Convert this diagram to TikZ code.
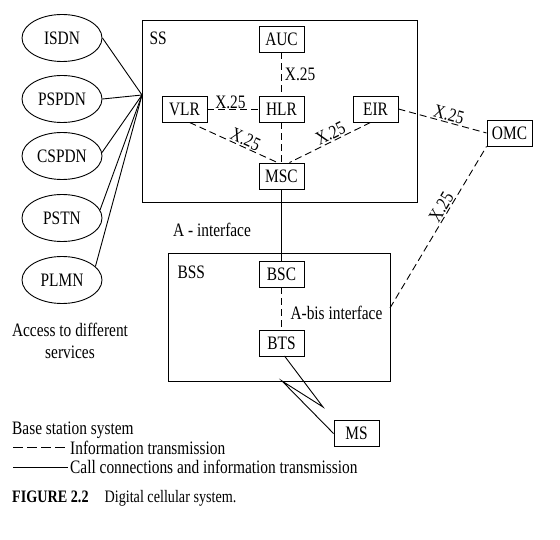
\documentclass[tikz,border=0pt]{standalone}
\usepackage{fontspec}
\setmainfont{Liberation Serif}[FakeStretch=0.81]
\usetikzlibrary{shapes.geometric}
\begin{document}
\begin{tikzpicture}[x=1pt,y=-1pt,
  every node/.style={font=\fontsize{19}{22}\selectfont, text=black},
  unit/.style={draw, line width=0.9pt, minimum width=45pt, minimum height=26pt, inner sep=0pt},
  net/.style={draw, ellipse, line width=0.9pt, minimum width=80pt, minimum height=47pt, inner sep=0pt},
  frame/.style={draw, line width=0.9pt, inner sep=0pt},
  info/.style={dash pattern=on 7pt off 4pt, line width=0.9pt},
  call/.style={line width=0.9pt},
  lbl/.style={inner sep=1pt}]
\useasboundingbox (0,0) rectangle (560,540);
% frames
\node[frame, minimum width=275pt, minimum height=182pt] (ss) at (279.5,111) {};
\node[frame, minimum width=222pt, minimum height=128pt] (bss) at (279,317) {};
\node[anchor=west] (sslbl) at (146,38) {SS};
\node[anchor=west] (bsslbl) at (174,272) {BSS};
% networks
\node[net] (isdn) at (62,38) {ISDN};
\node[net] (pspdn) at (62,99) {PSPDN};
\node[net] (cspdn) at (62,156) {CSPDN};
\node[net] (pstn) at (62,218) {PSTN};
\node[net] (plmn) at (62,280) {PLMN};
\coordinate (fan) at (142,95);
\draw[call] (isdn.east) -- (fan);
\draw[call] (pspdn.east) -- (fan);
\draw[call] (cspdn.5) -- (fan);
\draw[call] (pstn.12) -- (fan);
\draw[call] (plmn.22) -- (fan);
\node[align=center, inner sep=0pt] (acc) at (70,341) {Access to different\\services};
% units
\node[unit] (auc) at (281.5,39) {AUC};
\node[unit] (hlr) at (281.5,109) {HLR};
\node[unit] (vlr) at (184.5,109) {VLR};
\node[unit] (eir) at (375.5,109) {EIR};
\node[unit] (msc) at (281.5,176) {MSC};
\node[unit] (omc) at (509.5,133) {OMC};
\node[unit] (bsc) at (281.5,274) {BSC};
\node[unit] (bts) at (281.5,343) {BTS};
\node[unit] (ms) at (356.5,433.5) {MS};
% links inside SS
\draw[info] (auc) -- node[lbl, anchor=west, pos=0.5, xshift=2pt] (l1) {X.25} (hlr);
\draw[info] (vlr) -- node[lbl, above, pos=0.45, yshift=-1pt] (l2) {X.25} (hlr);
\draw[info] (hlr) -- (msc);
\draw[info] ([xshift=5pt]vlr.south) -- node[lbl, above, sloped, pos=0.6] (l3) {X.25} ([xshift=-4pt]msc.north);
\draw[info] ([xshift=-5pt]eir.south) -- node[lbl, above, sloped, pos=0.45] (l4) {X.25} ([xshift=8pt]msc.north);
\draw[info] (eir.east) -- node[lbl, above, sloped, pos=0.55] (l5) {X.25} (omc.west);
\coordinate (bssr) at (390,308);
\draw[info] (bssr) -- node[lbl, above, sloped, pos=0.6] (l6) {X.25} (omc.south west);
% A interface
\draw[call] (msc) -- (bsc);
\node (aint) at (212,230) {A - interface};
\draw[info] (bsc) -- (bts);
\node[anchor=west] (abis) at (287,313) {A-bis interface};
% radio link
\coordinate (z0) at (284.5,356);
\coordinate (z1) at (323,407);
\coordinate (z2) at (282,381);
\draw[call] (z0) -- (z1) -- (z2) -- (ms.west);
% legend
\node[anchor=west, inner sep=0pt] (bsys) at (12,430) {Base station system};
\coordinate (d0) at (13,447);
\coordinate (d1) at (68,447);
\draw[line width=0.9pt, dash pattern=on 10pt off 4pt] (d0) -- (d1);
\node[anchor=west, inner sep=0pt] (infot) at (70,448) {Information transmission};
\coordinate (s0) at (13,467);
\coordinate (s1) at (68,467);
\draw[call] (s0) -- (s1);
\node[anchor=west, inner sep=0pt] (callt) at (70,467) {Call connections and information transmission};
\node[anchor=west, inner sep=0pt] (fig) at (12,498) {\fontsize{17.5}{20}\selectfont\textbf{FIGURE 2.2}\hspace{16pt}Digital cellular system.};
\end{tikzpicture}
\end{document}
